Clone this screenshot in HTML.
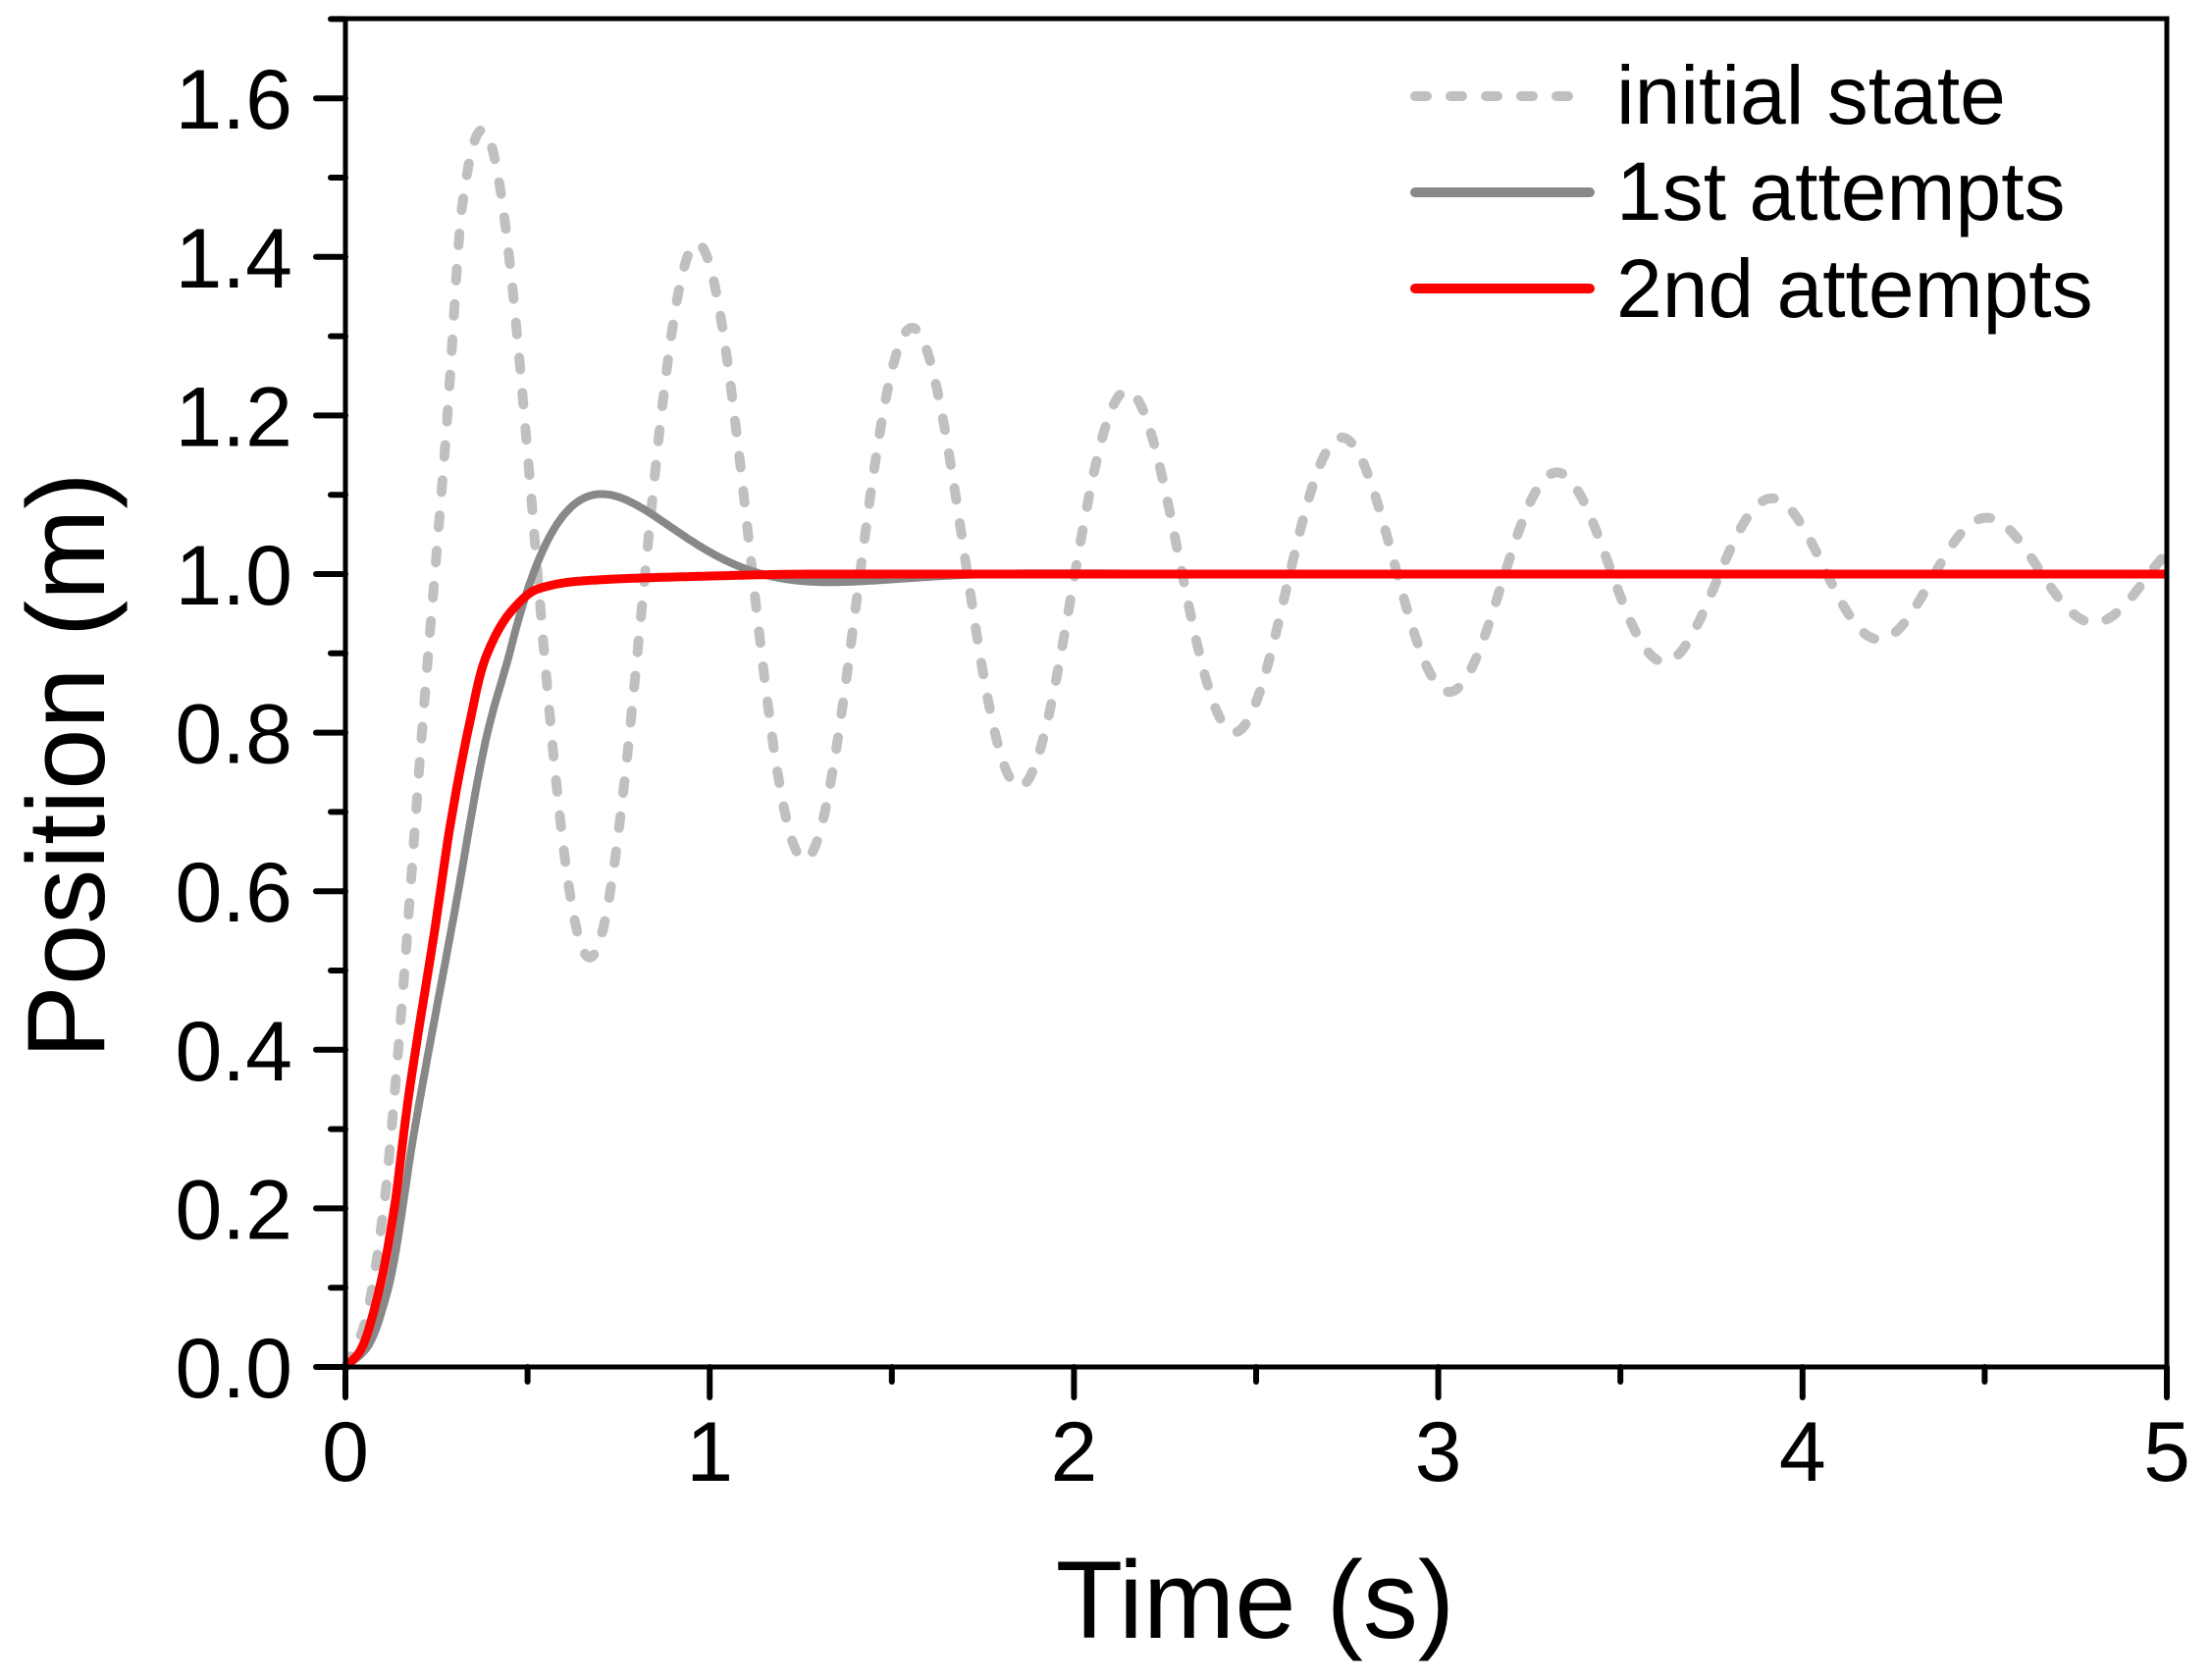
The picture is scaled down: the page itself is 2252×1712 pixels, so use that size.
<!DOCTYPE html>
<html><head><meta charset="utf-8"><style>
html,body{margin:0;padding:0;background:#fff;}
svg{display:block;}
text{font-family:"Liberation Sans",Arial,sans-serif;fill:#000;}
</style></head><body>
<svg id="s" width="2252" height="1712" viewBox="0 0 2252 1712" xmlns="http://www.w3.org/2000/svg">
<g id="curves" fill="none" stroke-linejoin="round"></g>
<rect x="352" y="19" width="1856" height="1374" fill="none" stroke="#000" stroke-width="5"/>
<g id="ticks" stroke="#000" stroke-width="6" stroke-linecap="round"></g>
<g id="labels" font-size="86"></g>
<text x="1279" y="1669" font-size="112" text-anchor="middle">Time (s)</text>
<text transform="translate(106,780) rotate(-90)" font-size="112" text-anchor="middle">Position (m)</text>
<g stroke-width="10" stroke-linecap="round">
<line x1="1442" y1="98" x2="1620" y2="98" stroke="#c0c0c0" stroke-dasharray="12 24"/>
<line x1="1442" y1="196" x2="1620" y2="196" stroke="#888"/>
<line x1="1442" y1="294" x2="1620" y2="294" stroke="#ff0000"/>
</g>
<g font-size="84">
<text x="1647" y="126">initial state</text>
<text x="1647" y="224">1st attempts</text>
<text x="1647" y="323">2nd attempts</text>
</g>
</svg>
<script>
var NS="http://www.w3.org/2000/svg";
function X(t){return 352+t*371.2;}
function Y(v){return 1393-v*808;}
var tk=document.getElementById("ticks"),lb=document.getElementById("labels");
function L(x1,y1,x2,y2){var l=document.createElementNS(NS,"line");l.setAttribute("x1",x1);l.setAttribute("y1",y1);l.setAttribute("x2",x2);l.setAttribute("y2",y2);tk.appendChild(l);}
function T(x,y,s,a){var t=document.createElementNS(NS,"text");t.setAttribute("x",x);t.setAttribute("y",y);t.setAttribute("text-anchor",a);t.textContent=s;lb.appendChild(t);}
for(var i=0;i<=17;i++){var y=Y(i*0.1);var maj=i%2==0;L(352,y,maj?322:337,y);if(maj)T(298,y+31,(i/10).toFixed(1),"end");}
for(var i=0;i<=10;i++){var x=X(i*0.5);var maj=i%2==0;L(x,1393,x,maj?1424:1408);if(maj)T(x,1509,String(i/2),"middle");}
function mono(P){var n=P.length,xs=P.map(p=>p[0]),ys=P.map(p=>p[1]),d=[],m=[];
for(var i=0;i<n-1;i++)d.push((ys[i+1]-ys[i])/(xs[i+1]-xs[i]));
m[0]=d[0];m[n-1]=d[n-2];
for(var i=1;i<n-1;i++){if(d[i-1]*d[i]<=0)m[i]=0;else{var w1=2*(xs[i+1]-xs[i])+(xs[i]-xs[i-1]),w2=(xs[i+1]-xs[i])+2*(xs[i]-xs[i-1]);m[i]=(w1+w2)/(w1/d[i-1]+w2/d[i]);}}
return function(t){var i=0;while(i<n-2&&t>xs[i+1])i++;var h=xs[i+1]-xs[i],s=(t-xs[i])/h,s2=s*s,s3=s2*s;
return (2*s3-3*s2+1)*ys[i]+(s3-2*s2+s)*h*m[i]+(-2*s3+3*s2)*ys[i+1]+(s3-s2)*h*m[i+1];};}
function path(f,col,w,dash){var d="";for(var t=0;t<=5.0001;t+=0.004){d+=(t==0?"M":"L")+X(t).toFixed(1)+","+Y(f(t)).toFixed(1);}
var p=document.createElementNS(NS,"path");p.setAttribute("d",d);p.setAttribute("stroke",col);p.setAttribute("stroke-width",w);if(dash){p.setAttribute("stroke-dasharray",dash);p.setAttribute("stroke-linecap","round");}document.getElementById("curves").appendChild(p);}
var w=10.65,sg=0.5;
function osc(t){return 1+0.677*Math.exp(-sg*t)*Math.cos(w*(t-0.38));}
var e0=mono([[0,0],[0.05,0.05],[0.105,0.2],[0.145,0.4],[0.21,0.8],[0.28,1.2],[0.32,osc(0.32)],[0.34,osc(0.34)]]);
function f0(t){return t<0.32?e0(t):osc(t);}
function so(t){var tp=t-0.075;if(tp<=0)return 0;var wd=5.0,s=3.65;return 1-Math.exp(-s*tp)*(Math.cos(wd*tp)+s/wd*Math.sin(wd*tp));}
var e1=mono([[0,0],[0.06,0.025],[0.118,0.1],[0.19,0.3],[0.298,0.57],[0.39,0.8],[0.45,so(0.45)],[0.47,so(0.47)]]);
function f1(t){return t<0.45?e1(t):so(t);}
var f2=mono([[0,0],[0.04,0.02],[0.094,0.1],[0.134,0.2],[0.17,0.33],[0.248,0.56],[0.288,0.684],[0.339,0.808],[0.382,0.891],[0.455,0.953],[0.527,0.981],[0.64,0.991],[0.96,0.997],[1.3,1.0],[5,1]]);
path(f0,"#c0c0c0",10,"12 24");
path(f1,"#888",8);
path(f2,"#ff0000",9);
</script>
</body></html>
